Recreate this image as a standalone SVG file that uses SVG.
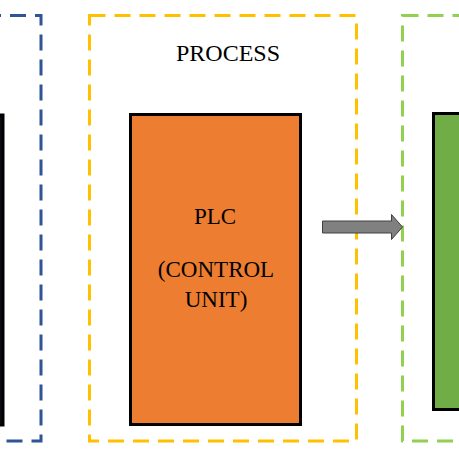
<svg xmlns="http://www.w3.org/2000/svg" width="459" height="459" viewBox="0 0 459 459">
<style>
.dash{fill:none;stroke-width:3;stroke-dasharray:16 9}
.blk{stroke:#000;stroke-width:3}
.t{font-family:"Liberation Serif","Times New Roman",serif;font-size:23px;fill:#000;text-anchor:middle}
</style>
<rect width="459" height="459" fill="#fff"/>
<g id="input-group">
<rect class="dash" x="-40" y="15.5" width="81" height="425.5" stroke="#2F5597"/>
<rect class="blk" x="-40" y="115" width="43" height="310" fill="#0a0a14"/>
</g>
<g id="process-group">
<rect class="dash" x="89.5" y="15.5" width="267" height="425.5" stroke="#FFC000"/>
<text class="t" x="228" y="61" style="font-size:24px">PROCESS</text>
</g>
<g id="plc">
<rect class="blk" x="130.5" y="114.5" width="170" height="310" fill="#ED7D31"/>
<text class="t" x="215" y="224">PLC</text>
<text class="t" x="216" y="277">(CONTROL</text>
<text class="t" x="216" y="307">UNIT)</text>
</g>
<g id="output-group">
<rect class="dash" x="402.5" y="15.5" width="100" height="425.5" stroke="#92D050"/>
<rect class="blk" x="433.5" y="113.5" width="60" height="296" fill="#70AD47"/>
</g>
<g id="connectors">
<path d="M322.5,221 H391.5 V214.5 L402.5,227 L391.5,239.5 V233 H322.5 Z" fill="#808080" stroke="#404040" stroke-width="1"/>
</g>
</svg>
